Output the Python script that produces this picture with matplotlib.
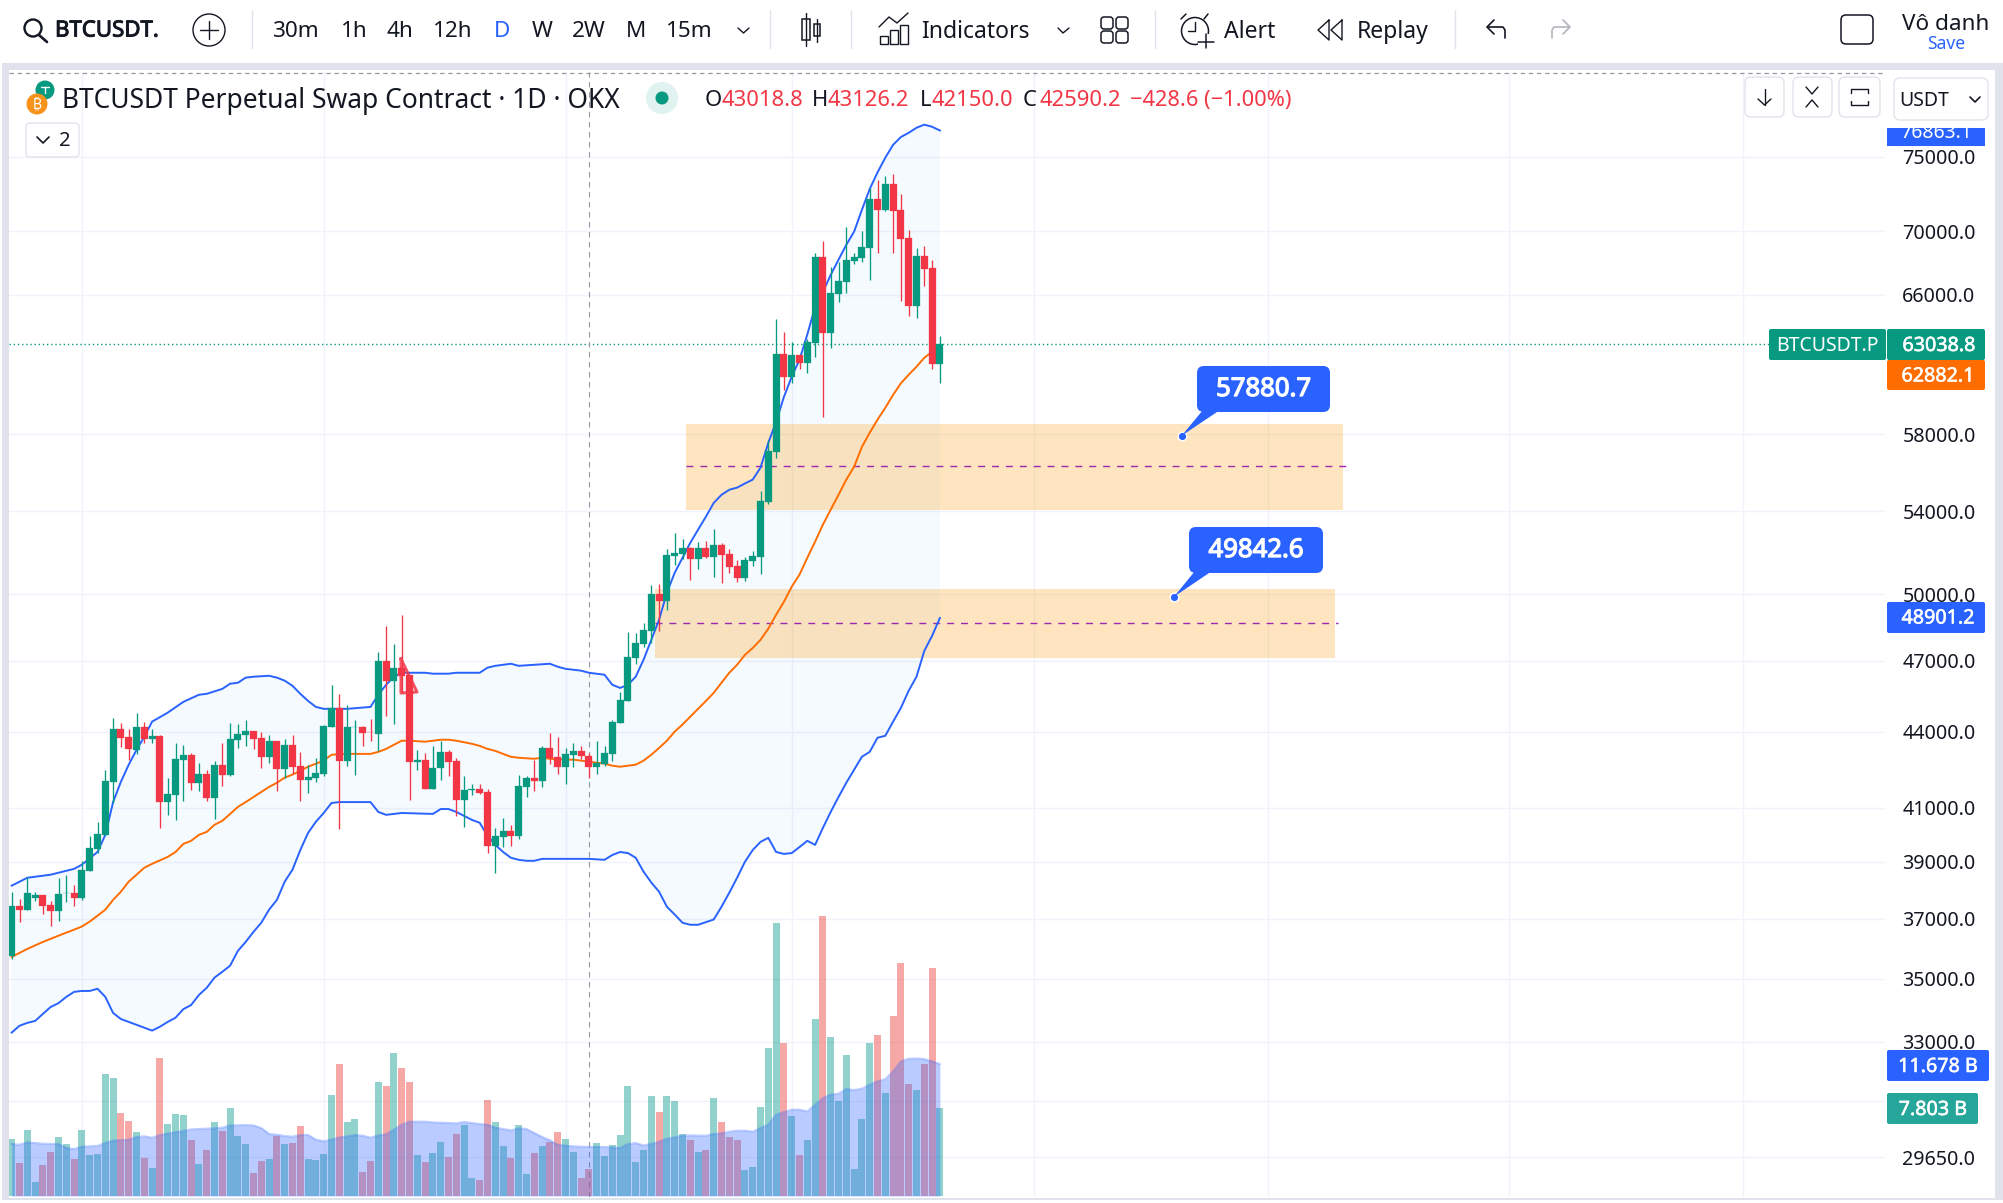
import matplotlib
matplotlib.use("Agg")
import matplotlib.pyplot as plt
import matplotlib.patheffects as pe
from matplotlib.patches import Rectangle, Circle, FancyBboxPatch, Polygon

plt.rcParams['font.family'] = ['Noto Sans', 'DejaVu Sans']

# daily candles
opens = [35750, 37445, 37308, 37732, 37828, 37480, 37274, 37875, 37900, 37721,
         38684, 39467, 39991, 42010, 44130, 43800, 43270, 44210, 43720, 43840,
         41225, 41500, 42880, 43075, 41970, 42330, 41380, 42680, 42290, 43680,
         43880, 44050, 43760, 42995, 43640, 42520, 43475, 42640, 42090, 42170,
         42330, 44210, 44990, 42840, 44190, 44210, 44010, 43930, 46997, 46140,
         46700, 46395, 42800, 42880, 41730, 42560, 43190, 42840, 41300, 41700,
         41730, 41620, 39580, 39920, 40140, 39955, 41810, 42170, 42050, 43350,
         42995, 42600, 43075, 43230, 43018.8, 42600, 42720, 43110, 44380, 45280,
         47125, 47730, 48330, 50013, 49685, 51810, 51900, 52190, 51660, 52190,
         51760, 52340, 51900, 51330, 50760, 51570, 51760, 54460, 57050, 62480,
         61170, 62420, 61970, 63110, 68360, 63720, 66050, 66790, 68110, 68300,
         68930, 72130, 71410, 73120, 71410, 69550, 65330, 68420, 67670, 61910]
highs = [37920, 37685, 38458, 37935, 37828, 37616, 38433, 38540, 38184, 39040,
         39954, 40477, 42480, 44580, 44380, 44130, 44790, 44420, 44130, 43880,
         42170, 43560, 43475, 43150, 42760, 42480, 42840, 43560, 44380, 44340,
         44500, 44050, 44010, 43880, 43640, 43720, 43880, 43190, 42680, 42955,
         44300, 45965, 45580, 45115, 44500, 44250, 44540, 47380, 48555, 47730,
         49050, 46395, 43270, 43150, 43430, 43640, 43270, 42955, 42250, 41930,
         41930, 41720, 40250, 40630, 40365, 42290, 42250, 42880, 43430, 43970,
         43800, 43350, 43560, 43430, 43126.2, 43640, 43430, 44500, 45665, 48280,
         48240, 48690, 50440, 50485, 52140, 52930, 52630, 52240, 52490, 52530,
         53130, 52440, 52140, 51620, 51760, 52040, 55030, 57670, 64560, 63780,
         63170, 62420, 63340, 68610, 69390, 67740, 68050, 70300, 68610, 70030,
         72850, 73380, 73700, 73810, 72470, 70100, 68930, 69050, 68180, 63510]
lows = [35650, 36898, 37308, 37616, 37171, 36760, 36932, 37582, 37445, 37650,
        38684, 39323, 39991, 41190, 43390, 42880, 43110, 43560, 43560, 40250,
        40740, 40550, 41260, 41690, 41650, 41260, 40590, 41850, 42250, 43350,
        43430, 43310, 42560, 42760, 41650, 42170, 42330, 41260, 41580, 42010,
        42250, 44210, 40220, 42640, 42290, 43430, 43640, 43230, 44660, 44340,
        45620, 41300, 42480, 41730, 41730, 42090, 42250, 40700, 40290, 41500,
        41540, 39320, 38610, 39540, 39580, 39840, 41420, 41650, 41810, 42720,
        42330, 41930, 42600, 42915, 42150.0, 42330, 42640, 42840, 44380, 45280,
        46870, 47600, 47770, 48330, 49280, 51380, 51660, 50670, 51190, 51710,
        50810, 50530, 51000, 50580, 50630, 51330, 50960, 54360, 56740, 60400,
        60800, 61620, 61390, 62310, 58940, 62830, 65570, 66110, 67930, 68050,
        66910, 68610, 71350, 68610, 65630, 64740, 64620, 66530, 61620, 60800]
closes = [37445, 37308, 37900, 37828, 37445, 37274, 37864, 37900, 37721, 38720,
          39505, 40028, 42050, 44130, 43760, 43310, 44210, 43720, 43840, 41225,
          41540, 42915, 43075, 41970, 42330, 41380, 42680, 42290, 43720, 43930,
          44050, 43720, 42995, 43640, 42520, 43475, 42600, 42090, 42210, 42370,
          44250, 44990, 42840, 44210, 44210, 43970, 43980, 46997, 46140, 46700,
          46350, 42800, 42865, 41730, 42560, 43190, 42800, 41300, 41690, 41730,
          41580, 39580, 39955, 40140, 39955, 41850, 42170, 42050, 43350, 42955,
          42600, 43110, 43230, 43035, 42590.2, 42760, 43150, 44420, 45320, 47170,
          47770, 48370, 50013, 49685, 51850, 51950, 52190, 51660, 52190, 51760,
          52340, 51850, 51280, 50760, 51620, 51810, 54510, 57100, 62480, 61170,
          62420, 61970, 63170, 68360, 63720, 66110, 66850, 68180, 68360, 69000,
          72130, 71410, 73120, 71350, 69480, 65330, 68420, 67610, 61910, 63038.8]

# volume in billions, one per candle
volumes = [5.07, 2.95, 5.87, 1.27, 2.77, 3.92, 5.25, 4.63, 3.30, 5.87,
           3.66, 3.75, 10.83, 10.47, 7.38, 6.67, 5.69, 3.39, 2.51, 12.24,
           6.40, 7.29, 7.20, 4.99, 2.86, 4.10, 6.58, 5.78, 7.82, 5.34,
           4.63, 2.07, 3.13, 3.30, 5.34, 4.63, 4.72, 6.22, 3.30, 3.22,
           3.75, 8.97, 11.71, 6.58, 6.84, 2.15, 3.13, 10.12, 9.76, 12.69,
           11.36, 10.12, 3.66, 3.04, 3.84, 4.81, 3.48, 5.52, 6.31, 1.62,
           1.45, 8.53, 6.58, 4.45, 3.39, 6.31, 1.98, 3.84, 4.45, 4.81,
           5.69, 5.07, 3.92, 1.62, 2.42, 4.72, 3.57, 4.54, 5.43, 9.76,
           3.04, 4.10, 8.88, 7.46, 8.88, 8.44, 5.52, 4.99, 3.92, 4.10,
           8.70, 6.58, 5.25, 4.99, 2.33, 2.60, 7.91, 13.13, 24.19, 13.57,
           7.11, 3.66, 4.99, 15.69, 24.81, 14.10, 8.44, 12.51, 2.42, 6.84,
           13.57, 14.28, 9.15, 15.96, 20.65, 9.94, 9.41, 11.71, 20.21, 7.803]

# bollinger bands, read at the bars where the line changes direction
upper_bars = [1, 3, 6, 9, 10, 12, 13, 14, 15, 16, 17, 18, 19, 21, 23, 25, 26, 28, 29, 30,
              31, 32, 34, 35, 36, 37, 38, 39, 40, 41, 44, 47, 48, 49, 50, 51, 54, 55, 57, 58,
              61, 62, 63, 65, 66, 68, 70, 71, 72, 74, 75, 77, 78, 79, 80, 81, 82, 83, 84, 85,
              86, 87, 88, 89, 90, 91, 92, 93, 94, 95, 96, 97, 98, 99, 100, 101, 102, 103, 104, 105,
              106, 107, 108, 109, 110, 111, 112, 113, 114, 115, 116, 117, 118, 119, 120]
upper_band = [38150, 38430, 38540, 38750, 38900, 39360, 39990, 41225, 42010, 42680,
              43270, 43800, 44420, 44790, 45240, 45540, 45580, 45790, 46010, 46050,
              46270, 46310, 46350, 46270, 46140, 45920, 45580, 45280, 45030, 44950,
              44950, 45030, 45540, 45965, 46310, 46480, 46480, 46440, 46440, 46480,
              46480, 46700, 46780, 46870, 46780, 46825, 46870, 46740, 46650, 46570,
              46480, 46395, 45965, 45830, 45965, 46310, 47040, 47920, 48830, 50060,
              51000, 51710, 52440, 53080, 53720, 54410, 54820, 55080, 55190, 55400,
              55600, 56220, 57530, 58670, 60030, 61170, 62140, 63610, 65270, 66170,
              67230, 68180, 69130, 69980, 71410, 72800, 73930, 74950, 75850, 76400,
              76700, 77060, 77280, 77130, 76863.1]
basis_bars = [1, 3, 5, 7, 9, 10, 11, 12, 13, 14, 15, 16, 17, 18, 19, 21, 22, 23, 24, 25,
              26, 27, 28, 29, 30, 31, 32, 33, 34, 35, 36, 37, 38, 39, 40, 41, 42, 44, 47, 48,
              49, 50, 51, 52, 54, 56, 57, 58, 60, 61, 62, 63, 64, 65, 66, 68, 69, 70, 72, 73,
              74, 75, 76, 77, 78, 79, 80, 81, 82, 83, 84, 85, 86, 87, 88, 89, 90, 91, 92, 93,
              94, 95, 96, 97, 98, 99, 100, 101, 102, 103, 104, 105, 106, 107, 108, 109, 110, 111, 112, 113,
              114, 115, 116, 117, 118, 119, 120]
basis_band = [35710, 35975, 36210, 36420, 36625, 36730, 36900, 37100, 37310, 37650,
              37935, 38290, 38540, 38790, 38930, 39180, 39360, 39655, 39770, 39990,
              40100, 40365, 40515, 40775, 41040, 41225, 41420, 41615, 41810, 41970,
              42170, 42290, 42440, 42600, 42720, 42840, 43075, 43110, 43110, 43190,
              43310, 43475, 43640, 43640, 43600, 43680, 43680, 43640, 43515, 43430,
              43310, 43230, 43110, 42995, 42955, 42915, 42955, 42915, 42880, 42880,
              42840, 42800, 42760, 42720, 42640, 42600, 42640, 42680, 42840, 43075,
              43350, 43640, 44010, 44300, 44625, 44950, 45280, 45620, 46050, 46480,
              46825, 47255, 47560, 47920, 48420, 49050, 49640, 50340, 50910, 51710,
              52490, 53325, 54070, 54820, 55600, 56270, 57310, 58070, 58780, 59430,
              60150, 60800, 61280, 61740, 62250, 62600, 62882.1]
lower_bars = [1, 2, 3, 4, 5, 6, 7, 8, 9, 10, 11, 12, 13, 14, 15, 16, 17, 18, 19, 20,
              21, 22, 23, 24, 25, 26, 27, 28, 29, 30, 31, 32, 33, 34, 35, 36, 37, 38, 39, 40,
              41, 42, 43, 47, 48, 49, 50, 51, 55, 56, 57, 58, 59, 60, 61, 62, 63, 64, 65, 66,
              67, 68, 69, 75, 77, 78, 79, 80, 81, 82, 83, 84, 85, 86, 87, 88, 89, 91, 92, 93,
              94, 95, 96, 97, 98, 99, 100, 101, 102, 103, 104, 105, 106, 107, 108, 109, 110, 111, 112, 113,
              114, 115, 116, 117, 118, 119, 120]
lower_band = [33290, 33500, 33590, 33650, 33870, 34090, 34210, 34410, 34570, 34600,
              34600, 34670, 34410, 33900, 33710, 33620, 33530, 33440, 33350, 33470,
              33620, 33750, 34020, 34150, 34470, 34700, 35030, 35220, 35420, 35910,
              36210, 36550, 36860, 37310, 37650, 38290, 38720, 39430, 40065, 40480,
              40810, 41190, 41225, 41225, 40850, 40740, 40775, 40810, 40775, 40960,
              40960, 40850, 40700, 40550, 40440, 39955, 39620, 39360, 39150, 39075,
              39040, 39040, 39110, 39110, 39075, 39250, 39360, 39320, 39150, 38650,
              38260, 37935, 37410, 37140, 36860, 36790, 36790, 36970, 37410, 37900,
              38430, 39000, 39430, 39730, 39880, 39360, 39290, 39320, 39540, 39770,
              39620, 40250, 40850, 41420, 41970, 42480, 42995, 43190, 43760, 43840,
              44420, 44990, 45710, 46310, 47430, 48100, 48901.2]

# moving average of the volume
vol_ma_bars = [1, 2, 3, 5, 7, 8, 9, 10, 12, 13, 14, 16, 17, 18, 19, 20, 21, 22, 23, 24,
               25, 27, 28, 29, 31, 32, 33, 34, 35, 36, 37, 38, 39, 40, 41, 42, 43, 44, 45, 46,
               47, 48, 49, 50, 51, 52, 54, 55, 57, 58, 59, 60, 61, 62, 63, 64, 65, 66, 67, 68,
               69, 70, 71, 72, 73, 75, 77, 79, 80, 81, 82, 83, 84, 85, 86, 87, 88, 90, 91, 92,
               93, 94, 95, 96, 97, 98, 99, 100, 101, 102, 103, 104, 105, 106, 107, 108, 109, 110, 111, 112,
               113, 114, 115, 116, 117, 118, 119, 120]
vol_ma = [4.60, 4.54, 4.75, 4.63, 4.60, 4.25, 4.16, 4.37, 4.43, 4.69,
          4.90, 4.99, 5.22, 5.28, 5.16, 5.40, 5.52, 5.66, 5.75, 5.90,
          5.93, 5.99, 6.05, 6.25, 6.28, 6.25, 6.02, 5.49, 5.43, 5.31,
          5.25, 5.40, 5.40, 4.99, 4.84, 4.99, 5.19, 5.28, 5.40, 5.34,
          5.16, 5.37, 5.46, 5.87, 6.31, 6.58, 6.58, 6.52, 6.46, 6.43,
          6.55, 6.46, 6.37, 6.31, 6.05, 5.93, 5.81, 5.99, 5.93, 5.58,
          5.22, 4.93, 4.54, 4.45, 4.40, 4.34, 4.34, 4.25, 4.60, 4.69,
          4.48, 4.60, 4.81, 5.07, 5.19, 5.34, 5.37, 5.34, 5.49, 5.55,
          5.69, 5.78, 5.78, 5.69, 6.02, 6.31, 7.20, 7.43, 7.64, 7.64,
          7.49, 8.08, 8.67, 8.97, 9.06, 9.47, 9.38, 9.50, 9.85, 10.15,
          10.35, 11.03, 11.92, 12.15, 12.18, 12.12, 11.92, 11.678]

price_ticks = [75000, 70000, 66000, 58000, 54000, 50000, 47000, 44000, 41000,
               39000, 37000, 35000, 33000, 31250, 29650]
time_grid_bars = [10, 41, 72, 101, 132, 162, 193, 223]

# supply / demand boxes: first bar, last bar, top price, bottom price, middle price
zone_names = ["upper", "lower"]
zone_start = [87.45, 83.5]
zone_end = [171.7, 170.7]
zone_top = [58560, 50250]
zone_bottom = [54070, 47140]
zone_mid = [56290, 48680]
note_bars = [151, 150]
note_prices = [57880.7, 49842.6]

GREEN = '#089981'
RED = '#f23645'
BLUE = '#2962ff'
ORANGE = '#ff6d00'
FRAME = '#e0e3eb'
INK = '#131722'

W, H = 2003, 1203
fig = plt.figure(figsize=(W / 100, H / 100), dpi=100, facecolor='white')


def px_axes(x0, y0, x1, y1, z):
    a = fig.add_axes([x0 / W, (H - y1) / H, (x1 - x0) / W, (y1 - y0) / H], zorder=z)
    return a


# background and chrome in pixel coordinates
bg = px_axes(0, 0, W, H, 0)
bg.set_xlim(0, W)
bg.set_ylim(H, 0)
bg.axis('off')
bg.add_patch(Rectangle((0, 63), W, 137 + 1000, color=FRAME, lw=0))
bg.add_patch(Rectangle((9, 70), 1986, 1128, color='white', lw=0))
bg.add_patch(Rectangle((0, 1200), W, 3, color='white', lw=0))
bg.add_patch(Rectangle((0, 63), 2, 1140, color='white', lw=0))

# volume panel shares the chart area, on top so grid lines stay behind its bars
x_left = 1 - (11.7 - 9) / 7.8
x_right = 1 + (1885 - 11.7) / 7.8
bars = list(range(1, len(closes) + 1))
up = [c >= o for o, c in zip(opens, closes)]

vol = px_axes(9, 72, 1885, 1197, 3)
vol.patch.set_alpha(0)
vol.axis('off')
vol.bar(bars, volumes, width=0.9, color=['#26a69a' if u else '#ef5350' for u in up], alpha=0.5, lw=0)
vol.fill_between(vol_ma_bars, 0, vol_ma, color=BLUE, alpha=0.32, lw=0)
vol.plot(vol_ma_bars, vol_ma, color=BLUE, alpha=0.3, lw=1.5)
vol.set_xlim(x_left, x_right)
vol.set_ylim(-0.09, 99.5)

# price panel
ax = px_axes(9, 72, 1885, 1197, 2)
ax.patch.set_alpha(0)
ax.set_yscale('log')
for s in ax.spines.values():
    s.set_visible(False)

ax.fill(upper_bars + lower_bars[::-1], upper_band + lower_band[::-1], color='#2196f3', alpha=0.045, lw=0)
for i in range(len(zone_names)):
    ax.add_patch(Rectangle((zone_start[i], zone_bottom[i]), zone_end[i] - zone_start[i],
                           zone_top[i] - zone_bottom[i], color='#ff9800', alpha=0.25, lw=0, zorder=1.5))
    ax.plot([zone_start[i], zone_end[i] + 0.4], [zone_mid[i], zone_mid[i]], color='#9c27b0', lw=1,
            dashes=(5, 5), zorder=1.6)

ax.plot(upper_bars, upper_band, color=BLUE, lw=1.4, zorder=3)
ax.plot(basis_bars, basis_band, color=ORANGE, lw=1.4, zorder=3)
ax.plot(lower_bars, lower_band, color=BLUE, lw=1.4, zorder=3)

colors = [GREEN if u else RED for u in up]
ax.vlines(bars, lows, highs, color=colors, lw=0.95, zorder=4)
ax.bar(bars, [abs(c - o) for o, c in zip(opens, closes)], bottom=[min(o, c) for o, c in zip(opens, closes)],
       width=0.88, color=colors, edgecolor=colors, lw=0.2, zorder=4)

ax.hlines(closes[-1], x_left, 1 + (1769 - 11.7) / 7.8, color=GREEN, lw=1, linestyles=(0, (1, 2)), zorder=2)
ax.axvline(75, color='#9598a1', lw=0.8, dashes=(5, 4), zorder=2)

ax.set_xlim(x_left, x_right)
ax.set_ylim(28580, 81150)
ax.set_xticks(time_grid_bars)
ax.set_xticklabels([])
ax.set_yticks(price_ticks)
ax.set_yticklabels(["%.1f" % p for p in price_ticks])
ax.minorticks_off()
ax.yaxis.tick_right()
ax.tick_params(axis='y', length=0, pad=12.5, labelsize=14.2, labelcolor=INK)
ax.tick_params(axis='x', length=0)
ax.grid(True, color='#f0f3fa', lw=1)
ax.set_axisbelow(True)

# anchors of the two price notes
ax.scatter(note_bars, note_prices, s=38, color=BLUE, edgecolor='white', lw=1, zorder=7)

# everything on top of the chart
ui = px_axes(0, 0, W, H, 5)
ui.set_xlim(0, W)
ui.set_ylim(H, 0)
ui.axis('off')
ui.patch.set_alpha(0)


def label(x, y, s, size=15, color=INK, ha='center', bold=0):
    t = ui.text(x, y + 1.5, s, fontsize=size, color=color, ha=ha, va='center')
    if bold:
        t.set_path_effects([pe.withStroke(linewidth=bold, foreground=color)])
    return t


def line(xs, ys, color=INK, lw=1.3):
    ui.plot(xs, ys, color=color, lw=lw, solid_capstyle='round', solid_joinstyle='round')


def box(x0, y0, x1, y1, face='white', edge='none', rad=4, lw=1):
    ui.add_patch(FancyBboxPatch((x0 + rad, y0 + rad), x1 - x0 - 2 * rad, y1 - y0 - 2 * rad,
                                boxstyle="round,pad=%d,rounding_size=%d" % (rad, rad),
                                fc=face, ec=edge, lw=lw, mutation_aspect=1))


# top toolbar
ui.add_patch(Rectangle((0, 0), W, 63, color='white', lw=0))
for sx in [252, 770, 851, 1155, 1455]:
    line([sx, sx], [10, 48], color='#e0e3eb', lw=1)

ui.add_patch(Circle((33, 28), 8.5, fc='none', ec=INK, lw=1.7))
line([39, 47], [35, 42], lw=1.9)
label(55, 29.5, "BTCUSDT.", size=16, ha='left', bold=0.7)
ui.add_patch(Circle((209, 30), 16, fc='none', ec=INK, lw=1))
line([200, 218], [30, 30], lw=1)
line([209, 209], [21, 39], lw=1)

tf_labels = ["30m", "1h", "4h", "12h", "D", "W", "2W", "M", "15m"]
tf_x = [296, 354, 400, 453, 502, 542, 589, 636, 689]
for t, x in zip(tf_labels, tf_x):
    label(x, 30, t, size=16.2, color=BLUE if t == "D" else INK)
line([738, 743.5, 749], [28, 33, 28], lw=1)

# candle icon
line([806, 806], [13, 46], lw=1)
ui.add_patch(Rectangle((802, 19), 8, 21, fc='white', ec=INK, lw=1.1))
line([817, 817], [19, 42], lw=1)
ui.add_patch(Rectangle((814, 24), 6, 12, fc='white', ec=INK, lw=1.1))

# indicators icon
for bx, by in zip([880, 890, 900], [36, 30, 25]):
    ui.add_patch(Rectangle((bx, by), 8, 44 - by, fc='white', ec=INK, lw=1))
line([879, 889, 897, 908], [27, 17, 23, 13], lw=1)
label(921, 30, "Indicators", size=16.5, ha='left')
line([1058, 1063, 1069], [28, 33, 28], lw=1)

for cx, cy in [(1107, 23), (1122, 23), (1107, 37), (1122, 37)]:
    box(cx - 6, cy - 6, cx + 6, cy + 6, edge=INK, rad=3, lw=1.1)

# alert icon
ui.add_patch(Circle((1195, 31), 13.5, fc='white', ec=INK, lw=1.1))
line([1195, 1195, 1188], [22, 31, 31], lw=1)
line([1181, 1186], [19, 14], lw=1.1)
line([1208, 1204], [14, 19], lw=1.1)
ui.add_patch(Rectangle((1198, 34), 16, 16, color='white', lw=0))
line([1198, 1214], [42, 42], lw=1.1)
line([1206, 1206], [34, 48], lw=1.1)
label(1224, 30, "Alert", size=16.5, ha='left')

# replay icon
line([1329, 1318, 1329, 1329], [20, 30, 40, 20], lw=1)
line([1342, 1331, 1342, 1342], [20, 30, 40, 20], lw=1)
label(1357, 30, "Replay", size=16.5, ha='left')

# undo, redo
line([1505, 1505, 1503, 1488], [38, 30, 27, 27], lw=1.2)
line([1494, 1487, 1494], [20, 27, 34], lw=1.2)
line([1552, 1552, 1554, 1569], [38, 30, 27, 27], color='#b2b5be', lw=1.2)
line([1563, 1570, 1563], [20, 27, 34], color='#b2b5be', lw=1.2)

box(1841, 15, 1873, 44, edge=INK, rad=5, lw=1.1)
label(1946, 23.5, "Vô danh", size=16.2)
label(1946, 42.5, "Save", size=12.6, color=BLUE)

# dashed line under the toolbar
ui.plot([9, 1883], [73, 73], color='#9598a1', lw=0.9, dashes=(3.5, 3))

# legend line
ui.add_patch(Circle((45, 90), 9.5, color=GREEN, lw=0))
line([41, 49], [87, 87], color='white', lw=1)
line([45, 45], [87, 93], color='white', lw=1)
ui.add_patch(Circle((37, 104), 10.5, color='#f7931a', lw=0))
ui.text(37, 104, "₿", fontsize=10, color='white', ha='center', va='center',
        family=['Inter', 'Roboto', 'Lato', 'Open Sans', 'Noto Sans', 'Liberation Sans', 'DejaVu Sans'])
label(62, 99.5, "BTCUSDT Perpetual Swap Contract · 1D · OKX", size=19, ha='left')
ui.add_patch(Circle((662, 98), 16, color='#e0f3f0', lw=0))
ui.add_patch(Circle((662, 98), 6.5, color=GREEN, lw=0))

ohlc_names = ["O", "H", "L", "C"]
ohlc_values = ["%.1f" % opens[74], "%.1f" % highs[74], "%.1f" % lows[74], "%.1f" % closes[74]]
name_x = [705, 812, 920, 1023]
value_x = [722, 828, 932, 1039]
for n, v, nx, vx in zip(ohlc_names, ohlc_values, name_x, value_x):
    label(nx, 99, n, size=15.8, ha='left')
    label(vx, 99, v, size=15.8, color=RED, ha='left')
label(1130, 99, "−428.6 (−1.00%)", size=15.7, color=RED, ha='left')

box(26, 123, 79, 157, edge='#e0e3eb', rad=4)
line([37, 43, 49], [137, 143, 137], lw=1.2)
label(65, 140, "2", size=14.5)

# chart buttons
for x0, x1 in [(1745, 1784), (1793, 1832), (1839, 1880)]:
    box(x0, 77, x1, 117, edge='#e0e3eb', rad=6)
line([1764.5, 1764.5], [89, 105], lw=1)
line([1758, 1764.5, 1771], [99, 105, 99], lw=1)
line([1806, 1812, 1818], [87, 94, 87], lw=1)
line([1806, 1812, 1818], [107, 100, 107], lw=1)
line([1851, 1851, 1868, 1868], [93, 89, 89, 93], lw=1)
line([1851, 1851, 1868, 1868], [101, 105, 105, 101], lw=1)

# price tags on the right
ui.add_patch(Rectangle((1887, 128), 98, 18, color=BLUE, lw=0))
label(1936, 131, "76863.1", size=14, color='white')
ui.add_patch(Rectangle((1885, 118), 104, 10, color='white', lw=0))
box(1894, 78, 1988, 120, edge='#e0e3eb', rad=6)
label(1899, 99, "USDT", size=14, ha='left')
line([1970, 1975, 1980], [97, 102, 97], lw=1.2)

box(1769, 329, 1886, 360, face=GREEN, rad=2)
label(1827, 344.5, "BTCUSDT.P", size=14, color='white')
box(1887, 329, 1985, 360, face=GREEN, rad=2)
label(1939, 344.5, "%.1f" % closes[-1], size=14.2, color='white', bold=0.4)
box(1887, 360, 1985, 390, face=ORANGE, rad=2)
label(1938, 375, "%.1f" % basis_band[-1], size=14.2, color='white', bold=0.4)
box(1887, 602, 1985, 633, face=BLUE, rad=2)
label(1938, 617, "%.1f" % lower_band[-1], size=14.2, color='white', bold=0.4)
box(1887, 1050, 1989, 1081, face=BLUE, rad=2)
label(1938, 1065.5, "%.3f B" % vol_ma[-1], size=14.2, color='white', bold=0.4)
box(1887, 1093, 1978, 1124, face='#26a69a', rad=2)
label(1933, 1108.5, "%.3f B" % volumes[-1], size=14.2, color='white', bold=0.4)

# callouts for the two zones
tails = [[(1181.7, 435.7), (1203, 410), (1220, 410)], [(1174, 596.7), (1195, 571), (1212, 571)]]
boxes = [(1197, 366, 1330, 412), (1189, 527, 1323, 573)]
for t, b, p in zip(tails, boxes, note_prices):
    ui.add_patch(Polygon(t, closed=True, color=BLUE, lw=0))
    box(b[0], b[1], b[2], b[3], face=BLUE, rad=7)
    label((b[0] + b[2]) / 2, (b[1] + b[3]) / 2 - 1, "%.1f" % p, size=18.5, color='white', bold=0.9)

# red hand drawn triangle
ui.plot([401, 417, 401, 401], [659, 692, 693, 659], color=RED, lw=2.2, alpha=0.85, solid_joinstyle='round')

fig.savefig("out.png", dpi=100, facecolor='white')
